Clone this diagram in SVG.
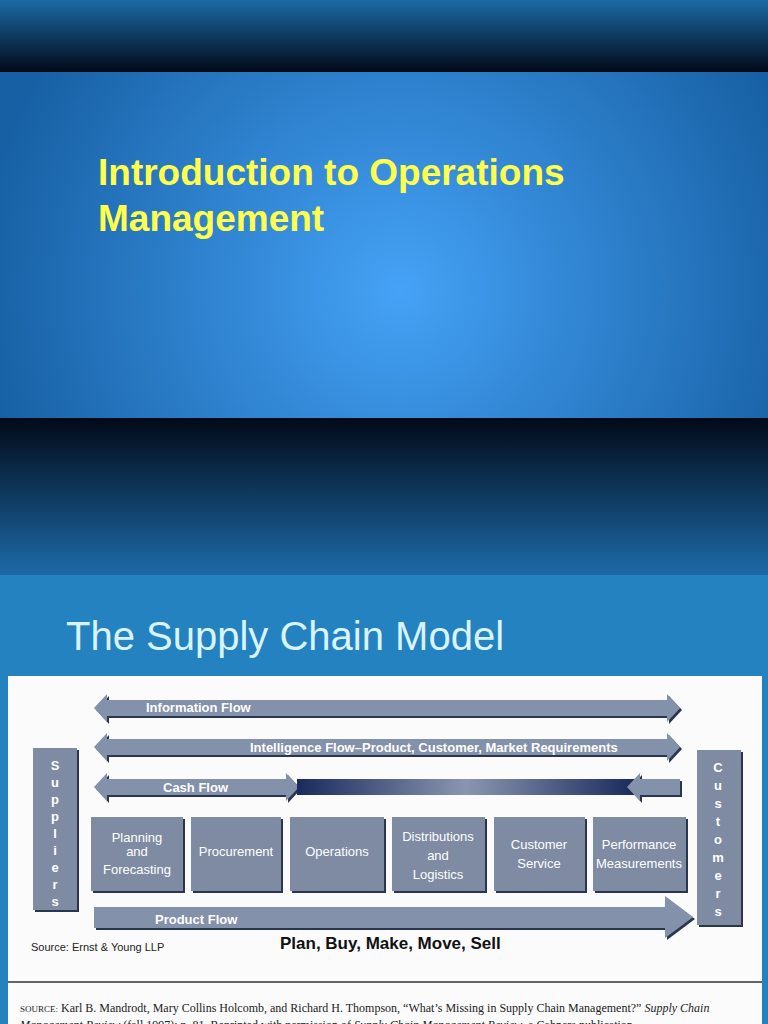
<svg xmlns="http://www.w3.org/2000/svg" width="768" height="1024" viewBox="0 0 768 1024">
<defs>
<linearGradient id="top" x1="0" y1="0" x2="0" y2="1"><stop offset="0" stop-color="#1c6aa6"/><stop offset="1" stop-color="#020a18"/></linearGradient>
<linearGradient id="mid" x1="0" y1="0" x2="0" y2="1"><stop offset="0" stop-color="#020a18"/><stop offset="1" stop-color="#1d6aa8"/></linearGradient>
<radialGradient id="rad" cx="400" cy="290" r="420" gradientUnits="userSpaceOnUse"><stop offset="0" stop-color="#45a2f6"/><stop offset="1" stop-color="#1760a4"/></radialGradient>
<linearGradient id="cash" x1="0" y1="0" x2="1" y2="0"><stop offset="0" stop-color="#1a2a5c"/><stop offset="0.5" stop-color="#8a96b0"/><stop offset="1" stop-color="#1a2a5c"/></linearGradient>
<filter id="sh"><feDropShadow dx="2" dy="2" stdDeviation="0.6" flood-color="#2a3550"/></filter>
</defs>
<style>
.t{font-family:"Liberation Sans",Arial,sans-serif}
.ar{fill:#8391aa;filter:url(#sh)}
.bx{fill:#7e8ba3;filter:url(#sh)}
.bt{font-family:"Liberation Sans",Arial,sans-serif;font-size:13px;fill:#fff;text-anchor:middle}
.at{font-family:"Liberation Sans",Arial,sans-serif;font-size:13px;fill:#fff;font-weight:bold}
.vt{font-family:"Liberation Sans",Arial,sans-serif;font-size:13px;fill:#fff;text-anchor:middle;font-weight:bold}
</style>
<rect width="768" height="72" fill="url(#top)"/>
<rect y="72" width="768" height="346" fill="url(#rad)"/>
<rect y="418" width="768" height="157" fill="url(#mid)"/>
<rect y="575" width="768" height="449" fill="#2582c0"/>
<text class="t" x="98" y="185" font-size="37" font-weight="bold" fill="#ffff4c">Introduction to Operations</text>
<text class="t" x="98" y="231" font-size="37" font-weight="bold" fill="#ffff4c">Management</text>
<text class="t" x="66" y="650" font-size="40" fill="#d8f4ff">The Supply Chain Model</text>
<rect x="8" y="676" width="754" height="348" fill="#fbfbfb"/>
<g id="connectors">
<path class="ar" d="M94 708 L107 694 L107 700 L667 700 L667 694 L680 708 L667 722 L667 716 L107 716 L107 722 Z"/>
<path class="ar" d="M94 747 L107 733 L107 739 L667 739 L667 733 L680 747 L667 761 L667 755 L107 755 L107 761 Z"/>
<path class="ar" d="M94 787 L107 773 L107 779 L286 779 L286 773 L299 787 L286 801 L286 795 L107 795 L107 801 Z"/>
<rect x="297" y="779" width="338" height="16" fill="url(#cash)"/>
<path class="ar" d="M627 787 L640 773 L640 779 L680 779 L680 795 L640 795 L640 801 Z"/>
<path class="ar" d="M94 907 L665 907 L665 896 L693 917 L665 938 L665 928 L94 928 Z"/>
</g>
<text class="at" x="146" y="712">Information Flow</text>
<text class="at" x="250" y="752" font-weight="normal">Intelligence Flow–Product, Customer, Market Requirements</text>
<text class="at" x="163" y="792">Cash Flow</text>
<text class="at" x="155" y="924">Product Flow</text>
<g id="suppliers"><rect class="bx" x="33" y="748" width="44" height="162"/>
<text class="vt"><tspan x="55" y="770">S</tspan><tspan x="55" y="787">u</tspan><tspan x="55" y="804">p</tspan><tspan x="55" y="821">p</tspan><tspan x="55" y="838">l</tspan><tspan x="55" y="855">i</tspan><tspan x="55" y="872">e</tspan><tspan x="55" y="889">r</tspan><tspan x="55" y="906">s</tspan></text></g>
<g id="customers"><rect class="bx" x="697" y="750" width="44" height="175"/>
<text class="vt"><tspan x="718" y="772">C</tspan><tspan x="718" y="790">u</tspan><tspan x="718" y="808">s</tspan><tspan x="718" y="826">t</tspan><tspan x="718" y="844">o</tspan><tspan x="718" y="862">m</tspan><tspan x="718" y="880">e</tspan><tspan x="718" y="898">r</tspan><tspan x="718" y="916">s</tspan></text></g>
<g id="planning"><rect class="bx" x="91" y="817" width="92" height="74"/><text class="bt"><tspan x="137" y="842">Planning</tspan><tspan x="137" y="856">and</tspan><tspan x="137" y="874">Forecasting</tspan></text></g>
<g id="procurement"><rect class="bx" x="191" y="817" width="90" height="74"/><text class="bt" x="236" y="856">Procurement</text></g>
<g id="operations"><rect class="bx" x="290" y="817" width="94" height="74"/><text class="bt" x="337" y="856">Operations</text></g>
<g id="distribution"><rect class="bx" x="392" y="817" width="93" height="74"/><text class="bt"><tspan x="438" y="841">Distributions</tspan><tspan x="438" y="860">and</tspan><tspan x="438" y="879">Logistics</tspan></text></g>
<g id="service"><rect class="bx" x="494" y="817" width="91" height="74"/><text class="bt"><tspan x="539" y="849">Customer</tspan><tspan x="539" y="868">Service</tspan></text></g>
<g id="performance"><rect class="bx" x="593" y="817" width="93" height="74"/><text class="bt"><tspan x="639" y="849">Performance</tspan><tspan x="639" y="868">Measurements</tspan></text></g>
<text class="t" x="31" y="951" font-size="11" fill="#222">Source: Ernst &amp; Young LLP</text>
<text class="t" x="280" y="949" font-size="17" font-weight="bold" fill="#111">Plan, Buy, Make, Move, Sell</text>
<line x1="8" y1="982" x2="762" y2="982" stroke="#333" stroke-width="1.5"/>
<text x="20" y="1012" font-family="Liberation Serif,serif" font-size="12" fill="#222"><tspan font-size="9">SOURCE:</tspan>   Karl B. Mandrodt, Mary Collins Holcomb, and Richard H. Thompson, “What’s Missing in Supply Chain Management?” <tspan font-style="italic">Supply Chain</tspan></text>
<text x="20" y="1029" font-family="Liberation Serif,serif" font-size="12" fill="#222"><tspan font-style="italic">Management Review</tspan> (fall 1997): p. 81. Reprinted with permission of <tspan font-style="italic">Supply Chain Management Review</tspan>, a Cahners publication.</text>
</svg>
